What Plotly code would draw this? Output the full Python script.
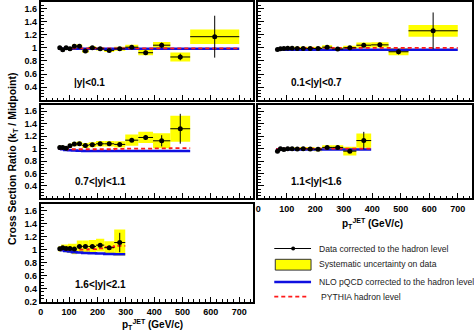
import numpy as np
import plotly.graph_objects as go

# jet pT bins (GeV/c)
bin_lo = [62, 72, 83, 96, 110, 127, 146, 169, 195, 224, 259, 298, 344, 396, 457, 527]
bin_hi = [72, 83, 96, 110, 127, 146, 169, 195, 224, 259, 298, 344, 396, 457, 527, 700]

rapidity_labels = ["|y|<0.1", "0.1<|y|<0.7", "0.7<|y|<1.1", "1.1<|y|<1.6", "1.6<|y|<2.1"]

# kT / Midpoint ratio of the measured cross sections
ratio_y1 = [1.00, 0.97, 1.00, 0.985, 1.025, 1.025, 0.95, 1.00, 0.985, 0.96, 0.985, 1.01, 0.925, 1.04, 0.86, 1.17]
ratio_y2 = [0.975, 0.985, 0.99, 0.995, 0.995, 0.99, 0.99, 0.99, 0.99, 1.01, 0.98, 1.00, 1.04, 1.045, 0.94, 1.26]
ratio_y3 = [1.02, 1.02, 1.005, 1.047, 1.073, 1.078, 1.052, 1.063, 1.078, 1.078, 1.068, 1.136, 1.18, 1.126, 1.32]
ratio_y4 = [0.96, 1.00, 0.985, 1.00, 1.00, 0.995, 1.00, 0.995, 0.99, 1.02, 1.02, 0.96, 1.13]
ratio_y5 = [1.013, 1.03, 1.02, 1.02, 1.01, 1.05, 1.05, 1.05, 1.07, 1.03, 1.11]

# statistical uncertainties
stat_y1 = [0.01, 0.01, 0.01, 0.01, 0.01, 0.01, 0.01, 0.01, 0.01, 0.012, 0.015, 0.02, 0.03, 0.04, 0.05, 0.32]
stat_y2 = [0.01, 0.01, 0.01, 0.01, 0.01, 0.01, 0.01, 0.01, 0.01, 0.012, 0.015, 0.02, 0.025, 0.03, 0.04, 0.28]
stat_y3 = [0.01, 0.01, 0.01, 0.01, 0.01, 0.01, 0.01, 0.012, 0.015, 0.015, 0.02, 0.03, 0.04, 0.09, 0.24]
stat_y4 = [0.02, 0.01, 0.01, 0.01, 0.01, 0.01, 0.01, 0.012, 0.015, 0.015, 0.02, 0.03, 0.14]
stat_y5 = [0.01, 0.01, 0.01, 0.01, 0.01, 0.015, 0.015, 0.02, 0.025, 0.03, 0.15]

# systematic uncertainties
syst_y1 = [0.025, 0.025, 0.025, 0.025, 0.025, 0.025, 0.025, 0.025, 0.025, 0.025, 0.03, 0.035, 0.04, 0.05, 0.07, 0.11]
syst_y2 = [0.02, 0.02, 0.02, 0.02, 0.02, 0.025, 0.025, 0.025, 0.025, 0.03, 0.03, 0.03, 0.04, 0.04, 0.055, 0.09]
syst_y3 = [0.025, 0.025, 0.03, 0.03, 0.035, 0.035, 0.04, 0.04, 0.045, 0.045, 0.05, 0.09, 0.09, 0.12, 0.21]
syst_y4 = [0.02, 0.02, 0.02, 0.02, 0.025, 0.025, 0.025, 0.03, 0.03, 0.035, 0.035, 0.07, 0.115]
syst_y5 = [0.04, 0.05, 0.06, 0.07, 0.08, 0.09, 0.09, 0.1, 0.1, 0.1, 0.2]

# NLO pQCD corrected to the hadron level
nlo_y1 = [0.985] * 16
nlo_y2 = [0.975, 0.975, 0.975, 0.972, 0.972, 0.97, 0.97, 0.97, 0.97, 0.97, 0.97, 0.97, 0.97, 0.97, 0.97, 0.97]
nlo_y3 = [1.0, 0.99, 0.98, 0.975, 0.97, 0.965, 0.963, 0.963, 0.963, 0.963, 0.963, 0.963, 0.963, 0.963, 0.963]
nlo_y4 = [0.99, 0.985, 0.985, 0.985, 0.985, 0.985, 0.985, 0.985, 0.985, 0.985, 0.985, 0.985, 0.985]
nlo_y5 = [1.0, 0.99, 0.98, 0.97, 0.96, 0.955, 0.95, 0.945, 0.94, 0.935, 0.93]

# PYTHIA hadron level
pyt_y1 = [0.99] * 16
pyt_y2 = [0.98, 0.985, 0.99, 0.99, 0.995, 0.995, 1.0, 1.0, 1.0, 1.0, 1.0, 1.0, 1.0, 1.0, 1.0, 1.0]
pyt_y3 = [1.0, 1.0, 0.995, 0.99, 0.99, 0.99, 0.99, 0.99, 0.99, 0.99, 0.995, 1.0, 1.0, 1.005, 1.01]
pyt_y4 = [0.99, 0.995, 1.0, 1.0, 1.0, 1.0, 1.0, 1.0, 1.0, 1.0, 1.0, 1.0, 1.0]
pyt_y5 = [1.0, 1.0, 1.0, 1.0, 1.0, 1.0, 1.0, 1.01, 1.02, 1.04, 1.06]

panels = [
    (ratio_y1, stat_y1, syst_y1, nlo_y1, pyt_y1),
    (ratio_y2, stat_y2, syst_y2, nlo_y2, pyt_y2),
    (ratio_y3, stat_y3, syst_y3, nlo_y3, pyt_y3),
    (ratio_y4, stat_y4, syst_y4, nlo_y4, pyt_y4),
    (ratio_y5, stat_y5, syst_y5, nlo_y5, pyt_y5),
]

W, H = 474, 336
def px(x):
    return x / W
def py(y):
    return 1 - y / H

col_dom = [[px(38), px(252)], [px(257), px(472)]]
row_dom = [[py(101), py(1)], [py(201), py(106)], [py(306), py(207)]]
# (column, row) for each panel
grid = [(0, 0), (1, 0), (0, 1), (1, 1), (0, 2)]
# panels that carry x tick labels
x_labelled = {3, 4}

FONT = "Liberation Sans, Arial, Helvetica, sans-serif"
BLUE = "#1010e0"
RED = "#ff1a1a"
YELLOW = "#ffff00"

fig = go.Figure()
layout = dict(
    width=W, height=H, margin=dict(l=0, r=0, t=0, b=0),
    paper_bgcolor="white", plot_bgcolor="white",
    showlegend=False, barmode="overlay",
    font=dict(family=FONT, color="black"),
)

lo = np.array(bin_lo, dtype=float)
hi = np.array(bin_hi, dtype=float)

for i, (ratio, stat, syst, nlo, pyt) in enumerate(panels):
    n = len(ratio)
    ax = "" if i == 0 else str(i + 1)
    xa, ya = "x" + ax, "y" + ax
    l, h = lo[:n], hi[:n]
    ctr = (l + h) / 2
    wid = h - l
    r = np.array(ratio)
    s = np.array(syst)

    # systematic band
    fig.add_trace(go.Bar(x=ctr, y=2 * s, base=r - s, width=wid,
                         marker=dict(color=YELLOW, line=dict(width=0)),
                         xaxis=xa, yaxis=ya, hoverinfo="skip"))
    # theory curves as histograms over the bins
    edges = np.append(l, h[-1])
    fig.add_trace(go.Scatter(x=edges, y=list(nlo) + [nlo[-1]], mode="lines",
                             line=dict(color=BLUE, width=2.5, shape="hv"),
                             xaxis=xa, yaxis=ya))
    fig.add_trace(go.Scatter(x=edges, y=list(pyt) + [pyt[-1]], mode="lines",
                             line=dict(color=RED, width=1.8, shape="hv", dash="4px,3px"),
                             xaxis=xa, yaxis=ya))
    # data points
    fig.add_trace(go.Scatter(x=ctr, y=r, mode="markers",
                             marker=dict(color="black", size=5),
                             error_x=dict(type="data", array=wid / 2, color="black", thickness=1, width=0),
                             error_y=dict(type="data", array=stat, color="black", thickness=1, width=0),
                             xaxis=xa, yaxis=ya))

    c, rw = grid[i]
    yvals = [0.4, 0.6, 0.8, 1.0, 1.2, 1.4, 1.6]
    ytext = ["0.4", "0.6", "0.8", "1", "1.2", "1.4", "1.6"]
    if i == 4:
        yvals = [0.2] + yvals
        ytext = ["0.2"] + ytext
    layout["xaxis" + ax] = dict(
        domain=col_dom[c], anchor=ya, range=[0, 750],
        showline=True, linecolor="black", linewidth=2, mirror=True,
        showgrid=False, zeroline=False,
        ticks="inside", ticklen=5, tickwidth=1, tickcolor="black",
        tickvals=[0, 100, 200, 300, 400, 500, 600, 700],
        showticklabels=(i in x_labelled),
        ticklabelstandoff=1,
        tickfont=dict(size=9, family=FONT, weight="bold"),
        minor=dict(ticks="inside", ticklen=2.5, tickcolor="black", dtick=20, tick0=0),
    )
    layout["yaxis" + ax] = dict(
        domain=row_dom[rw], anchor=xa, range=[0.2, 1.7],
        showline=True, linecolor="black", linewidth=2, mirror=True,
        showgrid=False, zeroline=False,
        ticks="inside", ticklen=6, tickwidth=1, tickcolor="black",
        tickvals=yvals, ticktext=ytext,
        showticklabels=(c == 0),
        tickfont=dict(size=9, family=FONT, weight="bold"),
        minor=dict(ticks="inside", ticklen=3, tickcolor="black", dtick=0.05, tick0=0.2),
    )

annotations = []
label_pos = [(110, 0.47), (108, 0.47), (112, 0.47), (108, 0.47), (112, 0.47)]
for i, text in enumerate(rapidity_labels):
    ax = "" if i == 0 else str(i + 1)
    x0, y0 = label_pos[i]
    annotations.append(dict(x=x0, y=y0, xref="x" + ax, yref="y" + ax, text=text,
                            showarrow=False, xanchor="left", yanchor="middle",
                            font=dict(size=10, family=FONT, weight="bold")))

xtitle = "p<sub>T</sub><sup>JET</sup> (GeV/c)"
annotations.append(dict(x=px(150), y=py(329), xref="paper", yref="paper", text=xtitle,
                        showarrow=False, xanchor="center", yanchor="middle",
                        font=dict(size=10, family=FONT, weight="bold")))
annotations.append(dict(x=px(372), y=py(227), xref="paper", yref="paper", text=xtitle,
                        showarrow=False, xanchor="center", yanchor="middle",
                        font=dict(size=10, family=FONT, weight="bold")))
annotations.append(dict(x=px(10), y=py(160), xref="paper", yref="paper",
                        text="Cross Section Ratio (k<sub>T</sub> / Midpoint)", textangle=-90,
                        showarrow=False, xanchor="center", yanchor="middle",
                        font=dict(size=10.5, family=FONT, weight="bold")))

# legend
legend_items = [
    ("Data corrected to the hadron level", 252, 316),
    ("Systematic uncertainty on data", 268, 316),
    ("NLO pQCD corrected to the hadron level", 286, 316),
    ("PYTHIA hadron level", 301, 318),
]
for text, yy, xx in legend_items:
    annotations.append(dict(x=px(xx), y=py(yy), xref="paper", yref="paper", text=text,
                            showarrow=False, xanchor="left", yanchor="middle",
                            font=dict(size=8.6, family=FONT, color="#222222")))

shapes = [
    dict(type="line", xref="paper", yref="paper", x0=px(273), x1=px(310), y0=py(252), y1=py(252),
         line=dict(color="black", width=1)),
    dict(type="circle", xref="paper", yref="paper", x0=px(290), x1=px(294), y0=py(254), y1=py(250),
         fillcolor="black", line=dict(color="black", width=0)),
    dict(type="rect", xref="paper", yref="paper", x0=px(274), x1=px(310), y0=py(274), y1=py(263),
         fillcolor=YELLOW, line=dict(color="#333333", width=1)),
    dict(type="line", xref="paper", yref="paper", x0=px(273), x1=px(310), y0=py(286), y1=py(286),
         line=dict(color=BLUE, width=2.5)),
    dict(type="line", xref="paper", yref="paper", x0=px(273), x1=px(308), y0=py(301), y1=py(301),
         line=dict(color=RED, width=1.8, dash="4px,3px")),
]

layout["annotations"] = annotations
layout["shapes"] = shapes
fig.update_layout(**layout)
fig.write_html("out.html")
